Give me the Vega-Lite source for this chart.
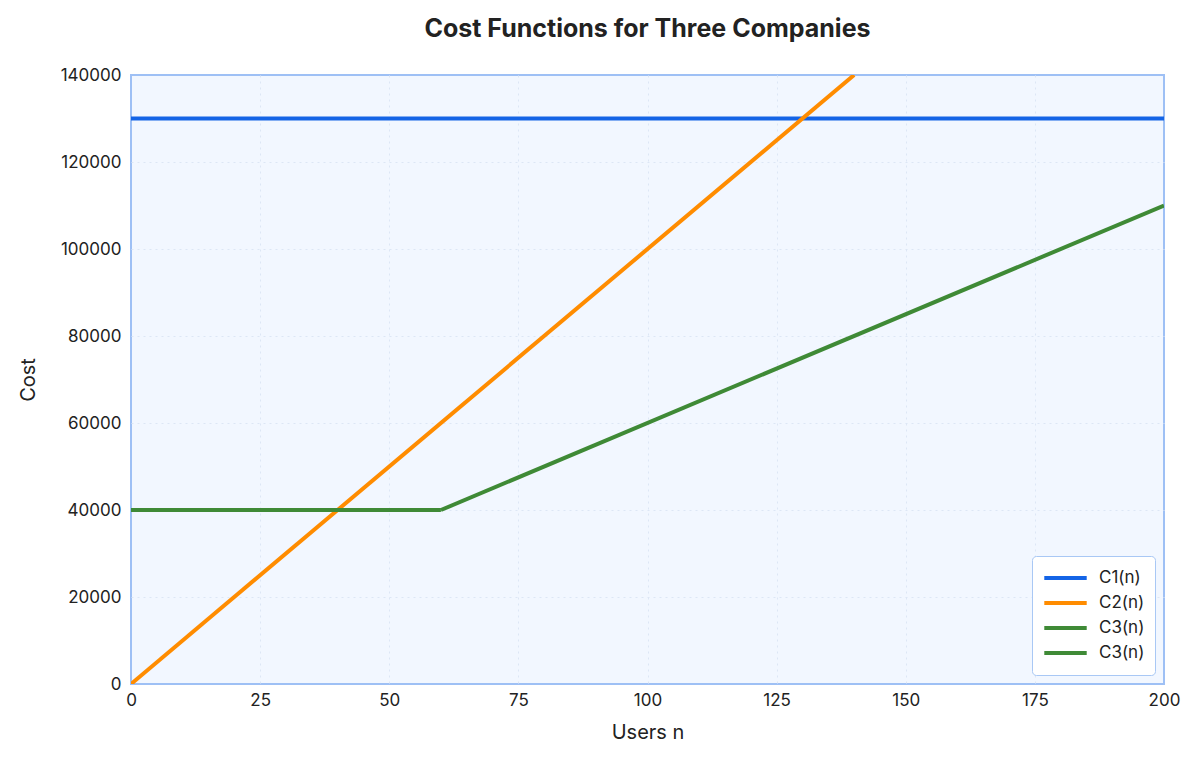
{
  "$schema": "https://vega.github.io/schema/vega-lite/v6.json",
  "autosize": {"type": "none"},
  "padding": {"left": 131, "top": 75, "right": 36, "bottom": 77},
  "width": 1033,
  "height": 609,
  "background": "white",
  "title": {
    "text": "Cost Functions for Three Companies",
    "font": "Inter",
    "fontSize": 25,
    "fontWeight": "bold",
    "color": "#222222",
    "anchor": "middle",
    "offset": 24
  },
  "config": {
    "font": "Inter",
    "view": {"fill": "#f2f7ff", "stroke": "#9ec0f5", "strokeWidth": 2}
  },
  "data": {
    "values": [
      {"n": 0, "cost": 130000, "series": "C1"},
      {"n": 200, "cost": 130000, "series": "C1"},
      {"n": 0, "cost": 0, "series": "C2"},
      {"n": 140, "cost": 140000, "series": "C2"},
      {"n": 0, "cost": 40000, "series": "C3a"},
      {"n": 60, "cost": 40000, "series": "C3a"},
      {"n": 60, "cost": 40000, "series": "C3b"},
      {"n": 200, "cost": 110000, "series": "C3b"}
    ]
  },
  "mark": {"type": "line", "strokeWidth": 4, "clip": true},
  "encoding": {
    "x": {
      "field": "n",
      "type": "quantitative",
      "scale": {"domain": [0, 200], "nice": false},
      "axis": {
        "title": "Users n",
        "titleFont": "Inter",
        "titleFontSize": 20,
        "titleFontWeight": "normal",
        "titleColor": "#222222",
        "titlePadding": 14,
        "values": [0, 25, 50, 75, 100, 125, 150, 175, 200],
        "labelFontSize": 17,
        "labelColor": "#222222",
        "labelPadding": 8,
        "labelFlush": false,
        "ticks": false,
        "domain": false,
        "grid": true,
        "gridColor": {"condition": {"test": "datum.value == 0 || datum.value == 200", "value": "transparent"}, "value": "#dde6f5"},
        "gridDash": [2, 4],
        "gridWidth": 1
      }
    },
    "y": {
      "field": "cost",
      "type": "quantitative",
      "scale": {"domain": [0, 140000], "nice": false},
      "axis": {
        "title": "Cost",
        "titleFont": "Inter",
        "titleFontSize": 20,
        "titleFontWeight": "normal",
        "titleColor": "#222222",
        "titlePadding": 22,
        "values": [0, 20000, 40000, 60000, 80000, 100000, 120000, 140000],
        "format": "d",
        "labelFontSize": 17,
        "labelColor": "#222222",
        "labelPadding": 10,
        "labelFlush": false,
        "ticks": false,
        "domain": false,
        "grid": true,
        "gridColor": {"condition": {"test": "datum.value == 0 || datum.value == 140000", "value": "transparent"}, "value": "#dde6f5"},
        "gridDash": [2, 4],
        "gridWidth": 1
      }
    },
    "color": {
      "field": "series",
      "type": "nominal",
      "scale": {
        "domain": ["C1", "C2", "C3a", "C3b"],
        "range": ["#1464e6", "#ff8c00", "#3f8a36", "#3f8a36"]
      },
      "legend": {
        "title": null,
        "orient": "bottom-right",
        "offset": 9,
        "labelExpr": "datum.value == 'C1' ? 'C1(n)' : datum.value == 'C2' ? 'C2(n)' : 'C3(n)'",
        "labelFontSize": 17,
        "labelColor": "#222222",
        "labelOffset": 10,
        "symbolType": "stroke",
        "symbolStrokeWidth": 4,
        "symbolSize": 1800,
        "clipHeight": 24,
        "rowPadding": 1,
        "padding": 10,
        "fillColor": "#ffffff",
        "strokeColor": "#a9c8f5",
        "cornerRadius": 4
      }
    },
    "detail": {"field": "series"}
  }
}
